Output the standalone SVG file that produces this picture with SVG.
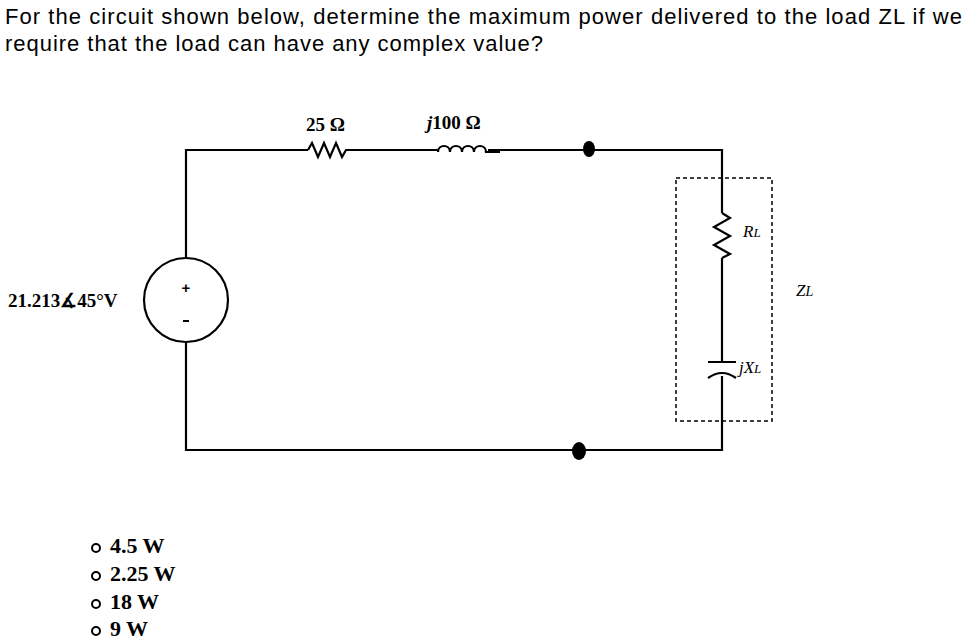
<svg xmlns="http://www.w3.org/2000/svg" width="969" height="641" viewBox="0 0 969 641">
<style>
.w{fill:none;stroke:#000;stroke-width:2.2}
.q{font-family:"Liberation Sans",Arial,sans-serif;font-size:22px;fill:#000}
.b{font-family:"Liberation Serif","DejaVu Serif",serif;font-weight:bold;font-size:19px;fill:#000}
.i{font-family:"Liberation Serif",serif;font-style:italic;font-size:17px;fill:#000}
</style>
<rect width="969" height="641" fill="#fff"/>
<text class="q" x="5" y="24" textLength="957" lengthAdjust="spacing">For the circuit shown below, determine the maximum power delivered to the load ZL if we</text>
<text class="q" x="5" y="51" textLength="538" lengthAdjust="spacing">require that the load can have any complex value?</text>
<g id="connectors">
<path class="w" d="M186,258 V150 H308 M355,150 H438 M488,150 H722 V213 M722,258 V362 M722,376 V450 H186 V342"/>
</g>
<g id="source">
<circle class="w" cx="186" cy="300" r="42"/>
<text x="186" y="293" text-anchor="middle" font-family="Liberation Sans,sans-serif" font-weight="bold" font-size="15">+</text>
<rect x="183" y="320" width="6" height="2"/>
<text class="b" x="8" y="307" font-size="20">21.213∡45°V</text>
</g>
<g id="r25">
<path class="w" stroke-width="1.6" d="M308,150 l4,-7 l6,14 l6,-14 l6,14 l6,-14 l6,14 l4,-7 h9"/>
<text class="b" x="306" y="131">25 Ω</text>
</g>
<g id="l100">
<path class="w" stroke-width="1.6" d="M438,152 c0,-8 12,-8 12,0 c0,-8 12,-8 12,0 c0,-8 12,-8 12,0 c0,-8 12,-8 12,0 h14"/>
<text class="b" x="427" y="129"><tspan font-style="italic">j</tspan>100 Ω</text>
</g>
<g id="nodes">
<ellipse cx="589" cy="149" rx="6" ry="8"/>
<ellipse cx="579" cy="451" rx="7" ry="9"/>
</g>
<g id="load">
<rect x="676" y="178" width="96" height="243" fill="none" stroke="#000" stroke-width="1.5" stroke-dasharray="4,3"/>
<path class="w" stroke-width="1.6" d="M722,213 l8,5 l-16,9 l16,9 l-16,9 l16,9 l-8,4"/>
<path class="w" d="M708,362 h28 M708,378 q14,-10 28,0"/>
<text class="i" x="743" y="237">R<tspan font-size="13">L</tspan></text>
<text class="i" x="739" y="373">jX<tspan font-size="13">L</tspan></text>
<text class="i" x="796" y="296" font-size="19">Z<tspan font-size="14">L</tspan></text>
</g>
<g id="answers" class="b">
<circle cx="96" cy="548" r="4" fill="none" stroke="#000" stroke-width="2"/><text x="110" y="553" font-size="22">4.5 W</text>
<circle cx="96" cy="576" r="4" fill="none" stroke="#000" stroke-width="2"/><text x="110" y="581" font-size="22">2.25 W</text>
<circle cx="96" cy="604" r="4" fill="none" stroke="#000" stroke-width="2"/><text x="110" y="609" font-size="22">18 W</text>
<circle cx="96" cy="631" r="4" fill="none" stroke="#000" stroke-width="2"/><text x="110" y="636" font-size="22">9 W</text>
</g>
</svg>
